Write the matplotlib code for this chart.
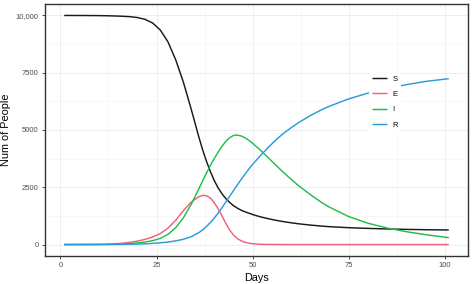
import matplotlib
matplotlib.use("Agg")
import matplotlib.pyplot as plt
from matplotlib.ticker import FixedLocator, FixedFormatter

days = [1, 5, 10, 12, 14, 16, 18, 20, 22, 24, 26, 28, 30, 32, 34, 36, 37, 38, 39, 40, 41, 42, 43, 44, 45,
        46, 47, 48, 49, 50, 52, 54, 56, 58, 60, 62, 65, 68, 70, 75, 80, 85, 90, 95, 101]

S = [10000, 9998, 9993, 9987, 9978, 9966, 9948, 9910, 9830, 9670, 9360, 8840, 8060, 7080, 5920, 4700,
     4130, 3630, 3190, 2800, 2480, 2220, 2010, 1840, 1700, 1590, 1500, 1430, 1370, 1310, 1210, 1130,
     1060, 1000, 950, 905, 850, 805, 780, 735, 705, 680, 662, 648, 636]
E = [0, 2, 8, 15, 30, 55, 95, 150, 225, 330, 480, 720, 1060, 1480, 1850, 2090, 2145, 2130, 2030,
     1830, 1570, 1260, 930, 640, 420, 260, 165, 100, 60, 35, 12, 5, 2, 1, 0, 0, 0, 0, 0, 0, 0, 0, 0, 0, 0]
I = [0, 1, 3, 6, 12, 22, 40, 70, 110, 170, 270, 450, 740, 1170, 1750, 2430, 2780, 3120, 3450, 3750,
     4030, 4280, 4500, 4660, 4760, 4780, 4740, 4660, 4550, 4420, 4120, 3800, 3470, 3150, 2850, 2560,
     2180, 1830, 1630, 1220, 930, 720, 560, 430, 300]
R = [0, 0, 1, 2, 4, 7, 12, 20, 32, 50, 75, 110, 160, 230, 340, 520, 640, 790, 960, 1150, 1370, 1600,
     1850, 2100, 2350, 2600, 2840, 3070, 3290, 3500, 3880, 4230, 4560, 4850, 5100, 5330, 5630, 5890,
     6040, 6360, 6610, 6810, 6980, 7120, 7240]

series = [("S", S, "#1a1a1a"), ("E", E, "#F0607E"), ("I", I, "#22BE4C"), ("R", R, "#2A9CDB")]

x_ticks = [0, 25, 50, 75, 100]
x_ticklabels = ["0", "25", "50", "75", "100"]
y_ticks = [0, 2500, 5000, 7500, 10000]
y_ticklabels = ["0", "2500", "5000", "7500", "10,000"]

plt.rcParams['font.family'] = ['Liberation Sans', 'DejaVu Sans']

fig = plt.figure(figsize=(4.74, 2.84), dpi=100)
ax = fig.add_axes([45 / 474, (284 - 256) / 284, (468 - 45) / 474, (256 - 4) / 284])

for name, vals, col in series:
    ax.plot(days, vals, color=col, lw=1.05, label=name, solid_capstyle="butt")

ax.set_xlim(-4, 106)
ax.set_ylim(-500, 10500)

ax.xaxis.set_major_locator(FixedLocator(x_ticks))
ax.xaxis.set_major_formatter(FixedFormatter(x_ticklabels))
ax.yaxis.set_major_locator(FixedLocator(y_ticks))
ax.yaxis.set_major_formatter(FixedFormatter(y_ticklabels))
ax.xaxis.set_minor_locator(FixedLocator([12.5, 37.5, 62.5, 87.5]))
ax.yaxis.set_minor_locator(FixedLocator([1250, 3750, 6250, 8750]))

ax.grid(which="major", color="#EBEBEB", lw=0.6)
ax.grid(which="minor", color="#F3F3F3", lw=0.4)
ax.set_axisbelow(True)
ax.tick_params(which="major", length=2.5, width=0.6, color="#333333", labelsize=5.5,
               labelcolor="#4D4D4D", pad=2)
ax.tick_params(which="minor", length=0)
for sp in ax.spines.values():
    sp.set_color("#333333")
    sp.set_linewidth(1.0)

ax.set_xlabel("Days", fontsize=7.8, labelpad=2.5)
ax.set_ylabel("Num of People", fontsize=7.8, labelpad=3.5)

leg = ax.legend(loc="center left", bbox_to_anchor=((369 - 45) / 423, 1 - (102 - 4) / 252),
                frameon=True, facecolor="white", edgecolor="none", framealpha=1,
                fontsize=5.5, handlelength=1.9, handletextpad=0.8, labelspacing=1.05,
                borderpad=0.4, borderaxespad=0, fancybox=False)

fig.savefig("out.png", dpi=100)
